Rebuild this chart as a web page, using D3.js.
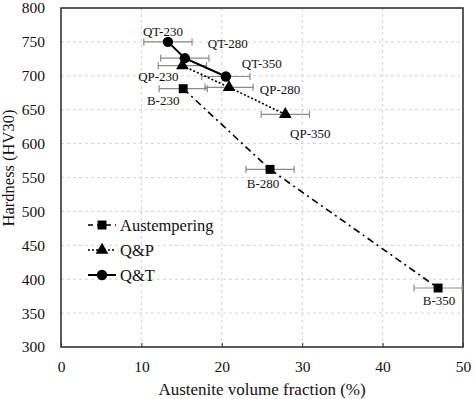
<!DOCTYPE html>
<html>
<head>
<meta charset="utf-8">
<script src="https://cdn.jsdelivr.net/npm/d3@7"></script>
<style>
body {margin: 0; background: #fff;}
svg text {font-family: "Liberation Serif", "Times New Roman", serif; fill: #111;}
</style>
</head>
<body>
<div id="chart"></div>
<script>

// data
const seriesNames = ["Austempering", "Q&P", "Q&T"];
const bLabels = ["B-230", "B-280", "B-350"];
const bFraction = [15.2, 26.0, 46.9];
const bHardness = [681, 562, 387];
const bErr = [3, 3, 3];

const qpLabels = ["QP-230", "QP-280", "QP-350"];
const qpFraction = [15.1, 20.9, 27.9];
const qpHardness = [715, 683, 643];
const qpErr = [3, 3, 3];

const qtLabels = ["QT-230", "QT-280", "QT-350"];
const qtFraction = [13.3, 15.4, 20.5];
const qtHardness = [750, 726, 699];
const qtErr = [3, 3, 3];

const xTicks = [0, 10, 20, 30, 40, 50];
const yTicks = [300, 350, 400, 450, 500, 550, 600, 650, 700, 750, 800];

// label placement (pixels from the point)
const bLabelOff = [[-20, 12], [-7, 14], [1, 12]];
const qpLabelOff = [[-24, 11], [51, 2], [25, 19]];
const qtLabelOff = [[-5, -10], [43, -15], [36, -13]];

const width = 474;
const height = 399;
const margin = {t: 8, b: 52, l: 61, r: 11};

const svg = d3.select("#chart")
    .append("svg")
    .attr("width", width)
    .attr("height", height)
    .attr("font-family", "Liberation Serif");

const xScale = d3.scaleLinear()
    .domain([0, 50])
    .range([margin.l, width - margin.r]);
const yScale = d3.scaleLinear()
    .domain([300, 800])
    .range([height - margin.b, margin.t]);

//grid
svg.append("g")
    .selectAll("line")
    .data(yTicks.slice(1, -1))
    .join("line")
    .attr("x1", margin.l).attr("x2", width - margin.r)
    .attr("y1", d => yScale(d)).attr("y2", d => yScale(d))
    .attr("stroke", "#d4d4d4")
    .attr("stroke-dasharray", "3,3");
svg.append("g")
    .selectAll("line")
    .data(xTicks.slice(1, -1))
    .join("line")
    .attr("x1", d => xScale(d)).attr("x2", d => xScale(d))
    .attr("y1", margin.t).attr("y2", height - margin.b)
    .attr("stroke", "#d4d4d4")
    .attr("stroke-dasharray", "3,3");

//axes
const x_axis = d3.axisBottom(xScale).tickValues(xTicks).tickSizeInner(-4).tickSizeOuter(0).tickPadding(14);
svg.append("g")
    .attr("transform", `translate(0, ${height - margin.b})`)
    .call(x_axis)
    .call(g => g.select(".domain").remove())
    .call(g => g.selectAll("line").attr("stroke", "#333"))
    .call(g => g.selectAll("text").attr("font-size", "15.5px").attr("font-family", "Liberation Serif").attr("fill", "#111"));

const y_axis = d3.axisLeft(yScale).tickValues(yTicks).tickSize(0).tickPadding(16);
svg.append("g")
    .attr("transform", `translate(${margin.l}, 0)`)
    .call(y_axis)
    .call(g => g.select(".domain").remove())
    .call(g => g.selectAll("text").attr("font-size", "15.5px").attr("font-family", "Liberation Serif").attr("fill", "#111"));

//frame
svg.append("rect")
    .attr("x", margin.l)
    .attr("y", margin.t)
    .attr("width", width - margin.l - margin.r)
    .attr("height", height - margin.t - margin.b)
    .attr("fill", "none")
    .attr("stroke", "#333")
    .attr("stroke-width", 1.6);

svg.append("text")
    .attr("x", (margin.l + width - margin.r) / 2)
    .attr("y", 395)
    .attr("text-anchor", "middle")
    .attr("font-size", "17px")
    .text("Austenite volume fraction (%)");
svg.append("text")
    .attr("transform", "rotate(-90)")
    .attr("x", -168)
    .attr("y", 14)
    .attr("text-anchor", "middle")
    .attr("font-size", "16.5px")
    .text("Hardness (HV30)");

const series = [
    {name: seriesNames[0], labels: bLabels, xs: bFraction, ys: bHardness, err: bErr, off: bLabelOff, dash: "7,4,2,4", width: 1.6, shape: d3.symbolSquare, size: 80},
    {name: seriesNames[1], labels: qpLabels, xs: qpFraction, ys: qpHardness, err: qpErr, off: qpLabelOff, dash: "2,2", width: 1.6, shape: d3.symbolTriangle, size: 70},
    {name: seriesNames[2], labels: qtLabels, xs: qtFraction, ys: qtHardness, err: qtErr, off: qtLabelOff, dash: null, width: 2, shape: d3.symbolCircle, size: 85}
];

const makeLine = d3.line()
    .x(d => xScale(d.x))
    .y(d => yScale(d.y));

series.forEach(s => {
    s.pts = s.xs.map((x, i) => ({x: x, y: s.ys[i], e: s.err[i], label: s.labels[i], off: s.off[i]}));
});

//error bars
series.forEach(s => {
    const g = svg.append("g").attr("stroke", "#8a8a8a").attr("stroke-width", 1.2);
    s.pts.forEach(p => {
        const y = yScale(p.y);
        g.append("line")
            .attr("x1", xScale(p.x - p.e)).attr("x2", xScale(p.x + p.e))
            .attr("y1", y).attr("y2", y);
        [p.x - p.e, p.x + p.e].forEach(v => {
            g.append("line")
                .attr("x1", xScale(v)).attr("x2", xScale(v))
                .attr("y1", y - 3.5).attr("y2", y + 3.5);
        });
    });
});

//lines + markers
series.forEach(s => {
    svg.append("path")
        .attr("d", makeLine(s.pts))
        .attr("fill", "none")
        .attr("stroke", "#000")
        .attr("stroke-width", s.width)
        .attr("stroke-dasharray", s.dash);
    svg.append("g")
        .selectAll("path")
        .data(s.pts)
        .join("path")
        .attr("transform", d => `translate(${xScale(d.x)}, ${yScale(d.y)})`)
        .attr("d", d3.symbol().type(s.shape).size(s.size))
        .attr("fill", "#000");
    svg.append("g")
        .selectAll("text")
        .data(s.pts)
        .join("text")
        .attr("x", d => xScale(d.x) + d.off[0])
        .attr("y", d => yScale(d.y) + d.off[1])
        .attr("dy", "0.35em")
        .attr("text-anchor", "middle")
        .attr("font-size", "13px")
        .text(d => d.label);
});

//legend
const legend = svg.append("g").attr("transform", "translate(88, 225)");
series.forEach((s, i) => {
    const row = legend.append("g").attr("transform", `translate(0, ${i * 25})`);
    row.append("line")
        .attr("x1", 0).attr("x2", 28)
        .attr("stroke", "#000")
        .attr("stroke-width", s.width)
        .attr("stroke-dasharray", i === 0 ? "5,4" : s.dash);
    row.append("path")
        .attr("transform", "translate(14, 0)")
        .attr("d", d3.symbol().type(s.shape).size(s.size))
        .attr("fill", "#000");
    row.append("text")
        .attr("x", 32)
        .attr("dy", "0.35em")
        .attr("font-size", "16.5px")
        .text(s.name);
});

</script>
</body>
</html>
